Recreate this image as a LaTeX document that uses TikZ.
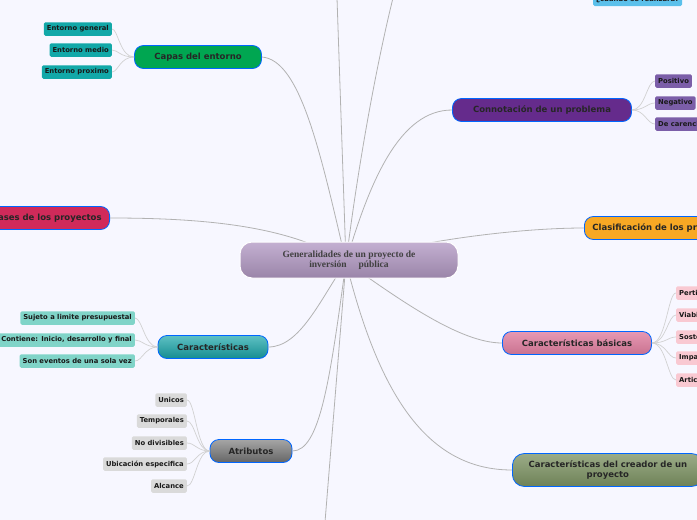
\documentclass[tikz,border=0pt]{standalone}
\usepackage{fontspec}
\setmainfont{DejaVu Sans}
\newfontfamily\serifb{Liberation Serif}
\begin{document}
\begin{tikzpicture}[x=1pt,y=-1pt,
  br/.style={draw=blue!60!cyan, line width=0.8pt, rounded corners=9pt, minimum height=23pt, font=\fontsize{8.5}{10}\selectfont\bfseries, text=black!85, inner xsep=8pt},
  lf/.style={rounded corners=1.5pt, minimum height=13.5pt, font=\fontsize{6.8}{8}\selectfont\bfseries, inner xsep=3pt, inner ysep=0pt, text=black!90},
  con/.style={draw=black!30, line width=0.8pt},
  lcon/.style={draw=black!18, line width=0.7pt}]
\useasboundingbox (0,0) rectangle (697,520);
\clip (0,0) rectangle (697,520);
\fill[blue!3!white] (0,0) rectangle (697,520);
\definecolor{cgreen}{HTML}{00A651}
\definecolor{cteal}{HTML}{12A8A8}
\definecolor{cred}{HTML}{D02A5A}
\definecolor{cteal2}{HTML}{19A6AA}
\definecolor{lteal}{HTML}{80D4C8}
\definecolor{cgray}{HTML}{7F7F7F}
\definecolor{lgray}{HTML}{DADADA}
\definecolor{cpurp}{HTML}{652B8C}
\definecolor{lpurp}{HTML}{7B5EA8}
\definecolor{corange}{HTML}{F8A824}
\definecolor{cpink}{HTML}{E07FA0}
\definecolor{lpink}{HTML}{F9C9D2}
\definecolor{colive}{HTML}{7A9060}
\definecolor{ccen}{HTML}{B59CC6}
\definecolor{lblue}{HTML}{5BC0EB}

\coordinate (h) at (346,262);
\coordinate (up1) at (337,-2);
\coordinate (up2) at (393,-2);
\coordinate (dn1) at (325,522);

\node[br, fill=cgreen, minimum width=127pt] (capas) at (198,57) {Capas del entorno};
\node[br, fill=cred, anchor=east] (fases) at (110,218) {Fases de los proyectos};
\node[br, top color=cteal2!70!white, bottom color=cteal2!85!black, minimum width=110pt] (car) at (213,347) {Características};
\node[br, top color=cgray!70!white, bottom color=cgray!80!black, minimum width=82pt] (atr) at (251,451) {Atributos};
\node[br, fill=cpurp, minimum width=179pt] (con) at (542,110) {Connotación de un problema};
\node[br, fill=corange, anchor=west] (cla) at (584,228) {Clasificación de los proyectos};
\node[br, top color=cpink!80!white, bottom color=cpink!90!black, minimum width=149pt] (cb) at (577,343) {Características básicas};
\node[br, top color=colive!75!white, bottom color=colive!90!black, minimum height=33pt, anchor=west, rounded corners=12pt, align=center, text width=175pt] (cre) at (512,470) {Características del creador de un\\proyecto};
\node[lf, fill=lblue, anchor=west, minimum height=14pt] (cuando) at (593,-1) {¿cuándo se realizará?};

\draw[con] (h) .. controls (320,150) and (300,60) .. (capas.east);
\draw[con] (h) .. controls (290,225) and (200,218) .. (fases.east);
\draw[con] (h) .. controls (320,300) and (300,347) .. (car.east);
\draw[con] (h) .. controls (330,380) and (320,451) .. (atr.east);
\draw[con] (h) .. controls (370,180) and (400,110) .. (con.west);
\draw[con] (h) .. controls (420,240) and (520,228) .. (cla.west);
\draw[con] (h) .. controls (400,300) and (460,343) .. (cb.west);
\draw[con] (h) .. controls (380,400) and (430,470) .. (cre.west);
\draw[con] (h) -- (up1);
\draw[con] (h) .. controls (360,150) and (380,50) .. (up2);
\draw[con] (h) -- (dn1);

\node[rounded corners=12pt, top color=ccen!80!white, bottom color=ccen!85!black, draw=white, line width=1pt, minimum width=218pt, minimum height=36pt, align=center, font=\serifb\fontsize{9.5}{10.5}\selectfont\bfseries, text=black!75] (cen) at (349,260) {Generalidades de un proyecto de\\inversión\quad\ pública};

\foreach \t/\y/\n in {Entorno general/29/a, Entorno medio/50/b, Entorno proximo/72/c}{
  \node[lf, fill=cteal, anchor=east] (cp\n) at (112,\y) {\t};
  \draw[lcon] (capas.west) .. controls (120,57) and (118,\y) .. (cp\n.east);
}
\foreach \t/\y/\n in {Sujeto a limite presupuestal/318/a, {Contiene: Inicio, desarrollo y final}/340/b, Son eventos de una sola vez/361/c}{
  \node[lf, fill=lteal, anchor=east] (cr\n) at (135,\y) {\t};
  \draw[lcon] (car.west) .. controls (145,347) and (142,\y) .. (cr\n.east);
}
\foreach \t/\y/\n in {Unicos/400/a, Temporales/421/b, No divisibles/443/c, Ubicación especifica/464/d, Alcance/486/e}{
  \node[lf, fill=lgray, anchor=east] (at\n) at (187,\y) {\t};
  \draw[lcon] (atr.west) .. controls (197,451) and (195,\y) .. (at\n.east);
}
\foreach \t/\y/\n in {Positivo/81/a, Negativo/103/b, De carencia/124/c}{
  \node[lf, fill=lpurp, anchor=west] (cn\n) at (655,\y) {\t};
  \draw[lcon] (con.east) .. controls (645,110) and (647,\y) .. (cn\n.west);
}
\foreach \t/\y/\n in {Pertinencia/293/a, Viabilidad/315/b, Sostenibilidad/337/c, Impacto/358/d, Articulación/380/e}{
  \node[lf, fill=lpink, anchor=west] (cb\n) at (676,\y) {\t};
  \draw[lcon] (cb.east) .. controls (666,343) and (668,\y) .. (cb\n.west);
}
\end{tikzpicture}
\end{document}
